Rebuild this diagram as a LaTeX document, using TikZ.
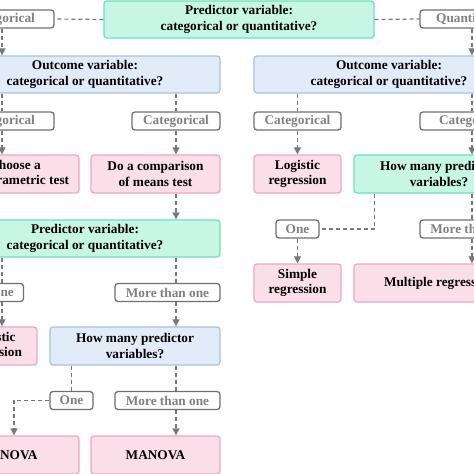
\documentclass[tikz,border=0pt]{standalone}
\usepackage{fontspec}
\setmainfont{Liberation Serif}
\usetikzlibrary{arrows.meta}

\definecolor{mintfill}{RGB}{200,246,229}
\definecolor{mintline}{RGB}{110,224,186}
\definecolor{bluefill}{RGB}{226,236,248}
\definecolor{blueline}{RGB}{168,194,224}
\definecolor{pinkfill}{RGB}{250,222,232}
\definecolor{pinkline}{RGB}{238,168,194}
\definecolor{tagline}{RGB}{112,112,112}
\definecolor{tagtext}{RGB}{128,128,128}
\definecolor{linkgray}{RGB}{120,120,120}

\tikzset{
  box/.style={rectangle,rounded corners=3pt,line width=1.3pt,align=center,inner sep=0pt,
    minimum height=37pt,font=\bfseries\fontsize{13.3}{15.5}\selectfont},
  askpred/.style={box,fill=mintfill,draw=mintline},
  askout/.style={box,fill=bluefill,draw=blueline},
  testbox/.style={box,fill=pinkfill,draw=pinkline},
  tag/.style={box,minimum height=18pt,fill=white,draw=tagline,text=tagtext},
  link/.style={draw=linkgray,line width=1.2pt,dash pattern=on 4pt off 3pt},
}

\begin{document}
\begin{tikzpicture}[x=1pt,y=-1pt,>={Triangle[length=7pt,width=7pt]}]
\useasboundingbox (0,0) rectangle (474,474);
\clip (0,0) rectangle (474,474);
\fill[white] (0,0) rectangle (474,474);

% top question
\node[askpred,minimum width=270pt] (pTop) at (239,19.5) {Predictor variable:\\categorical or quantitative?};
\node[tag,minimum width=104pt] (tCat) at (2,19) {Categorical};
\node[tag,minimum width=104pt] (tQuant) at (472,19) {Quantitative};

% outcome questions
\node[askout,minimum width=270pt] (oLeft) at (85,74.5) {Outcome variable:\\categorical or quantitative?};
\node[askout,minimum width=270pt] (oRight) at (389,74.5) {Outcome variable:\\categorical or quantitative?};

\node[tag,minimum width=104pt] (cA) at (2,121) {Categorical};
\node[tag,minimum width=88pt] (cB) at (176,121) {Categorical};
\node[tag,minimum width=87pt] (cC) at (297.5,121) {Categorical};
\node[tag,minimum width=104pt] (cD) at (472,121) {Categorical};

% third row
\node[testbox,minimum width=128pt,minimum height=38pt] (nonpar) at (15,174) {Choose a\\nonparametric test};
\node[testbox,minimum width=129pt,minimum height=38pt] (compare) at (155.5,174) {Do a comparison\\of means test};
\node[testbox,minimum width=87pt,minimum height=38pt] (logitR) at (297.5,174) {Logistic\\regression};
\node[askpred,minimum width=170pt,minimum height=38pt] (howR) at (439,174) {How many predictor\\variables?};

% fourth row
\node[askpred,minimum width=270pt] (pMid) at (85,238.5) {Predictor variable:\\categorical or quantitative?};
\node[tag,minimum width=43pt] (oneR) at (297.5,229) {One};
\node[tag,minimum width=104pt] (moreR) at (472,229) {More than one};
\node[testbox,minimum width=87pt,minimum height=38pt] (simple) at (297.5,283) {Simple\\regression};
\node[testbox,minimum width=170pt,minimum height=38pt] (multiple) at (439,283) {Multiple regression};

% fifth row
\node[tag,minimum width=43pt] (oneL) at (2,292.5) {One};
\node[tag,minimum width=105pt] (moreL) at (167.5,292.5) {More than one};
\node[testbox,minimum width=88pt,minimum height=38pt] (logitL) at (-7,346) {Logistic\\regression};
\node[askout,minimum width=170pt,minimum height=38pt] (howL) at (135,346) {How many predictor\\variables?};

% last row
\node[tag,minimum width=43pt] (oneB) at (71.5,400.5) {One};
\node[tag,minimum width=105pt] (moreB) at (167.5,400.5) {More than one};
\node[testbox,minimum width=130pt,minimum height=38pt] (anova) at (14,455) {ANOVA};
\node[testbox,minimum width=129pt,minimum height=38pt] (manova) at (155.5,455) {MANOVA};

% connectors
\draw[link] (pTop.west) -- (tCat.east);
\draw[link] (pTop.east) -- (tQuant.west);
\draw[link,->,linkgray] (tCat.south) -- (tCat.south |- oLeft.north);
\draw[link,->,linkgray] (tQuant.south) -- (tQuant.south |- oRight.north);

\draw[link] (cA.north |- oLeft.south) -- (cA.north);
\draw[link,->,linkgray] (cA.south) -- (cA.south |- nonpar.north);
\draw[link] (cB.north |- oLeft.south) -- (cB.north);
\draw[link,->,linkgray] (cB.south) -- (cB.south |- compare.north);
\draw[link] (cC.north |- oRight.south) -- (cC.north);
\draw[link,->,linkgray] (cC.south) -- (cC.south |- logitR.north);
\draw[link] (cD.north |- oRight.south) -- (cD.north);
\draw[link,->,linkgray] (cD.south) -- (cD.south |- howR.north);

\draw[link,->,linkgray] (cB.south |- compare.south) -- (cB.south |- pMid.north);
\draw[link] ([xshift=21pt]howR.south west) |- (oneR.east);
\draw[link,->,linkgray] (oneR.south) -- (oneR.south |- simple.north);
\draw[link] (moreR.north |- howR.south) -- (moreR.north);
\draw[link,->,linkgray] (moreR.south) -- (moreR.south |- multiple.north);

\draw[link] (oneL.north |- pMid.south) -- (oneL.north);
\draw[link,->,linkgray] (oneL.south) -- (oneL.south |- logitL.north);
\draw[link] (cB.south |- pMid.south) -- (cB.south |- moreL.north);
\draw[link,->,linkgray] (cB.south |- moreL.south) -- (cB.south |- howL.north);

\draw[link] (oneB.north |- howL.south) -- (oneB.north);
\draw[link,->,linkgray] (oneB.west) -| (anova.north);
\draw[link] (cB.south |- howL.south) -- (cB.south |- moreB.north);
\draw[link,->,linkgray] (cB.south |- moreB.south) -- (cB.south |- manova.north);
\end{tikzpicture}
\end{document}
